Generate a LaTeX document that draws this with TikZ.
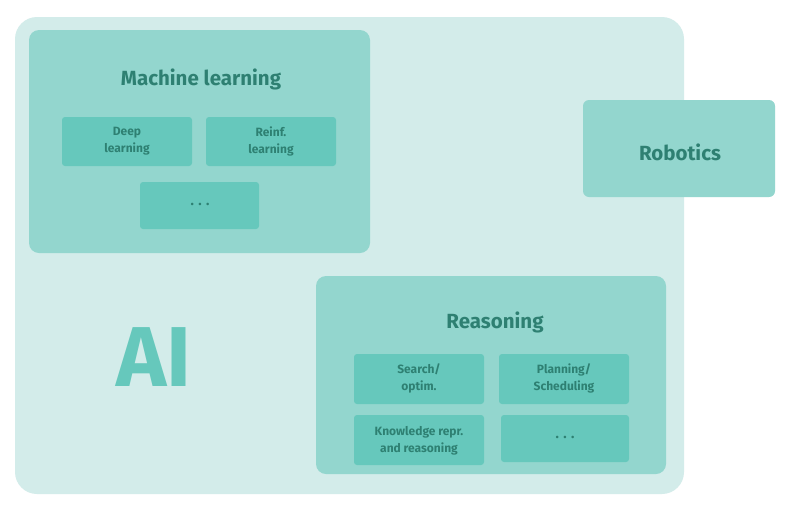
\documentclass[tikz,border=0pt]{standalone}
\usepackage{fontspec}
\setmainfont{Fira Sans}
\definecolor{aibg}{HTML}{D3ECEA}
\definecolor{midbox}{HTML}{93D6CE}
\definecolor{subbox}{HTML}{66C8BC}
\definecolor{txt}{HTML}{2E8072}
\begin{document}
\begin{tikzpicture}[x=1pt,y=-1pt,
  region/.style={fill=midbox,rounded corners=10pt},
  item/.style={fill=subbox,rounded corners=3pt},
  title/.style={text=txt,font=\fontsize{20.5}{22}\selectfont\bfseries},
  lbl/.style={text=txt,font=\fontsize{12}{17}\selectfont\bfseries,align=center},
  dots/.style={text=txt,font=\fontsize{14}{17}\selectfont\bfseries}]
\useasboundingbox[fill=white] (0,0) rectangle (800,512);
\fill[aibg,rounded corners=22pt] (15,17) rectangle (684,494);
\node[text=subbox,font=\fontsize{85}{90}\selectfont\bfseries] (ai) at (154,357) {AI};
% Machine learning
\fill[region] (29,30) rectangle (370,253);
\node[title] (ml) at (201,79) {Machine learning};
\fill[item] (62,117) rectangle (192,166);
\node[lbl] (dl) at (127,141) {Deep\\learning};
\fill[item] (206,117) rectangle (336,166);
\node[lbl] (rl) at (271,141) {Reinf.\\learning};
\fill[item] (140,182) rectangle (259,229);
\node[dots] (mldots) at (200,204) {. . .};
% Robotics
\fill[region,rounded corners=6pt] (583,100) rectangle (775,197);
\node[title] (rob) at (680,152) {Robotics};
% Reasoning
\fill[region] (316,276) rectangle (666,474);
\node[title] (rea) at (495,322) {Reasoning};
\fill[item] (354,354) rectangle (484,404);
\node[lbl] (so) at (419,378) {Search/\\optim.};
\fill[item] (499,354) rectangle (629,404);
\node[lbl] (ps) at (564,378) {Planning/\\Scheduling};
\fill[item] (354,415) rectangle (484,465);
\node[lbl] (kr) at (419,441) {Knowledge repr.\\and reasoning};
\fill[item] (501,415) rectangle (629,462);
\node[dots] (rdots) at (565,437) {. . .};
\end{tikzpicture}
\end{document}
